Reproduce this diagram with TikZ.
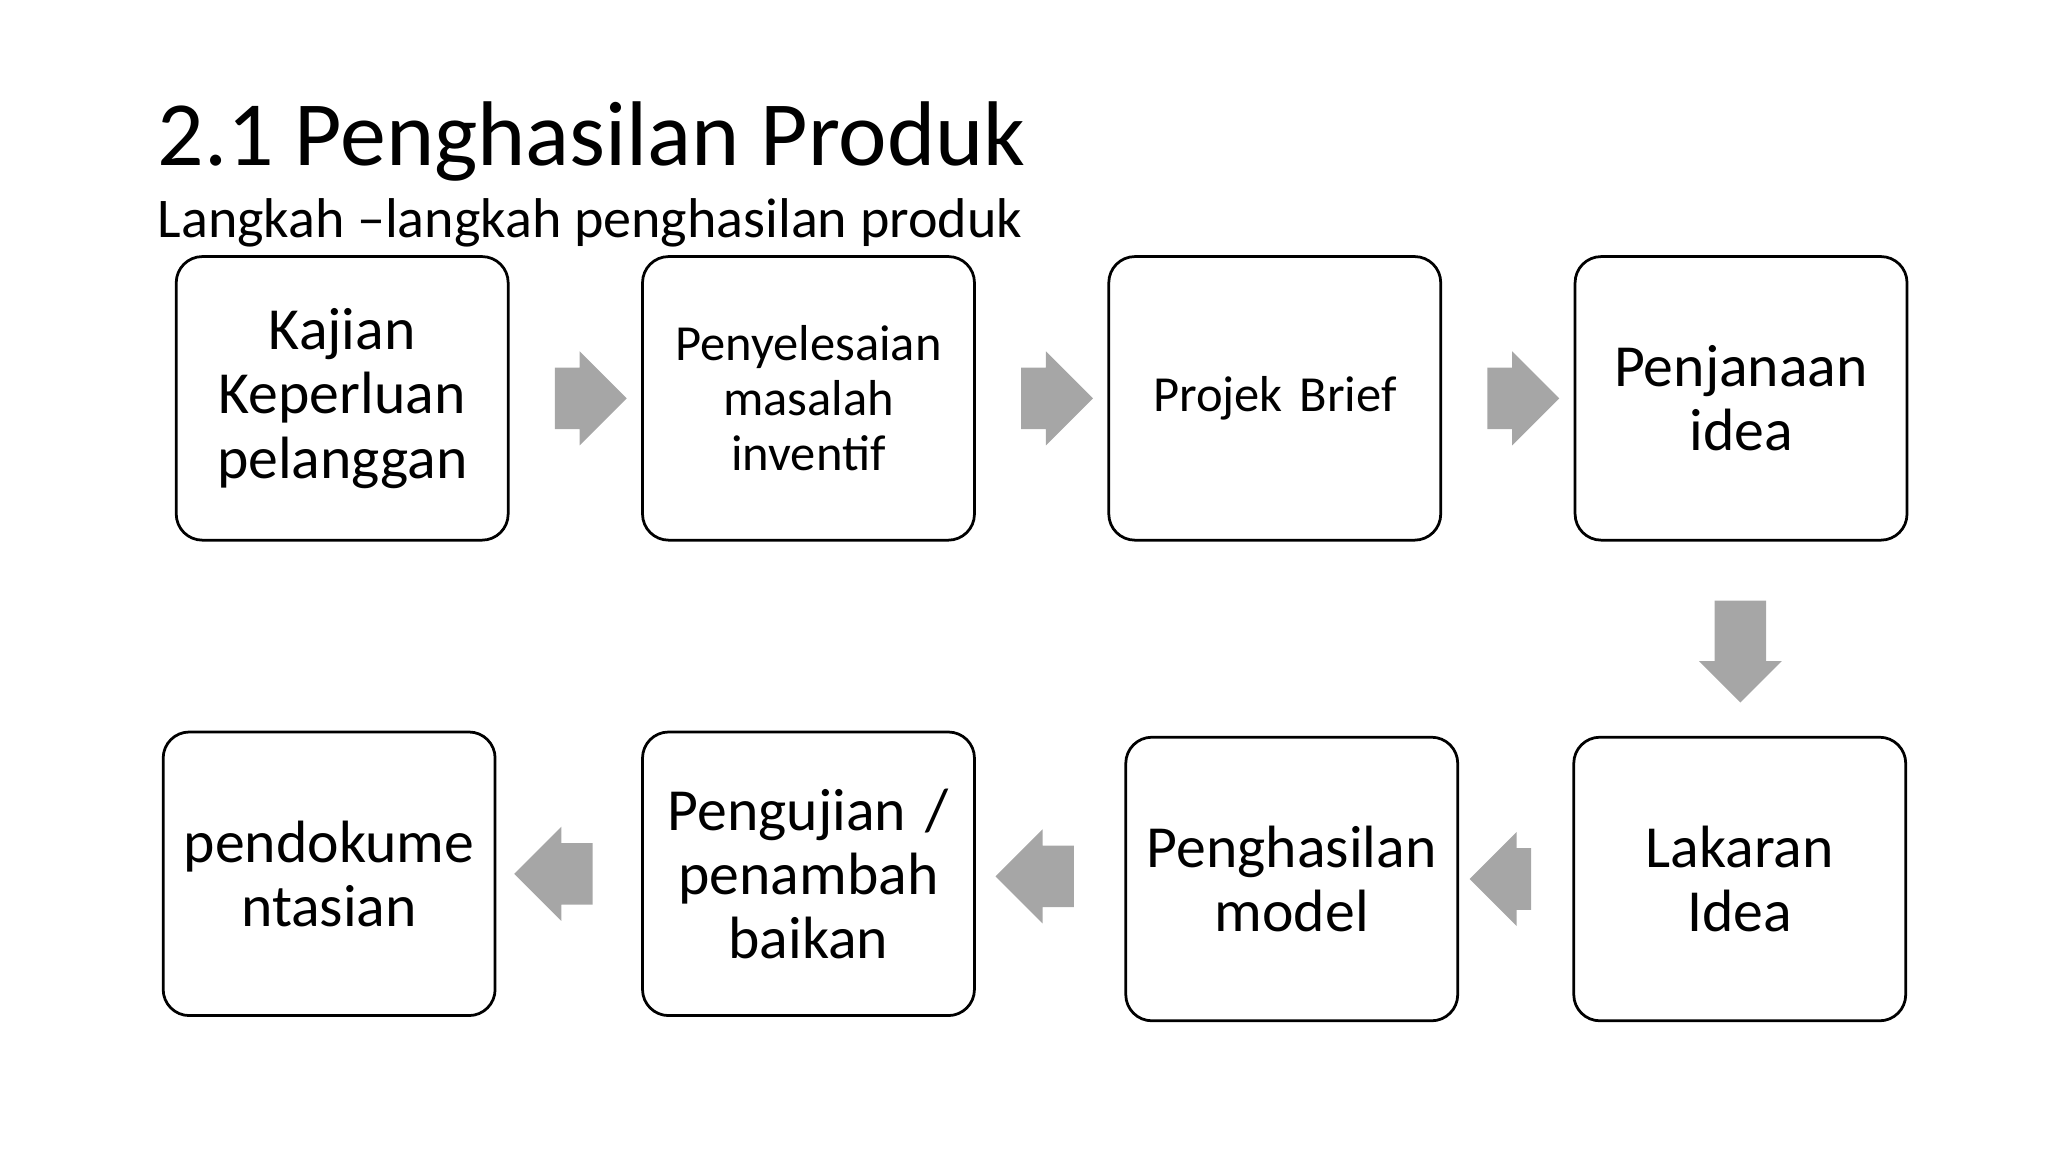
\documentclass[tikz,border=0pt]{standalone}
\usepackage{fontspec}
\setmainfont{Carlito}
\usetikzlibrary{calc,shapes.arrows}
\tikzset{x=0.01cm, y=-0.01cm,
    step box/.style={draw=black, rounded corners=0.2cm, line width=0.6pt,
        minimum width=2.54cm, minimum height=2.17cm, align=center,
        inner sep=0.05cm, text width=2.4cm, font=\fontsize{13}{14}\selectfont},
    small text/.style={font=\fontsize{11}{12}\selectfont},
    flow arrow/.style={single arrow, fill=black!35, draw=none,
        minimum height=0.55cm, minimum width=0.72cm,
        single arrow head extend=0.12cm, inner xsep=0pt, inner ysep=0.22cm}
    }
\def\StepBox#1#2#3#4{%
  \node[step box] (#1) at (#2,#3) {#4};
}
\begin{document}
\begin{tikzpicture}
\useasboundingbox (0,0) rectangle (1568,882);
\node[anchor=base west, inner sep=0pt, font=\fontsize{20}{24}\selectfont] (title) at (120,127) {2.1 Penghasilan Produk};
\node[anchor=base west, inner sep=0pt, font=\fontsize{12.2}{15}\selectfont] (subtitle) at (120,182) {Langkah –langkah penghasilan produk};
% top row
\StepBox{kajian}{262}{305}{Kajian\\Keperluan\\pelanggan}
\node[step box, small text] (masalah) at (619,305) {Penyelesaian\\masalah\\inventif};
\node[step box, small text] (brief) at (976,305) {Projek~Brief};
\StepBox{idea}{1333}{305}{Penjanaan\\idea}
% bottom row
\StepBox{lakaran}{1332}{673}{Lakaran\\Idea}
\StepBox{model}{989}{673}{Penghasilan\\model}
\StepBox{uji}{619}{669}{Pengujian /\\penambah\\baikan}
\StepBox{dokumen}{252}{669}{pendokume\\ntasian}
% arrows
\node[flow arrow] (a1) at ($(kajian.east)!0.5!(masalah.west)$) {};
\node[flow arrow] (a2) at ($(masalah.east)!0.5!(brief.west)$) {};
\node[flow arrow] (a3) at ($(brief.east)!0.5!(idea.west)$) {};
\node[flow arrow, rotate=-90, minimum height=0.78cm, minimum width=0.63cm, inner ysep=0.19cm, single arrow head extend=0.12cm] (a4) at ($(idea.south)!0.5!(lakaran.north)$) {};
\node[flow arrow, rotate=180, minimum height=0.47cm] (a5) at ($(lakaran.west)!0.5!(model.east)$) {};
\node[flow arrow, rotate=180, minimum height=0.6cm] (a6) at ($(model.west)!0.5!(uji.east)$) {};
\node[flow arrow, rotate=180, minimum height=0.6cm] (a7) at ($(uji.west)!0.5!(dokumen.east)$) {};
\end{tikzpicture}
\end{document}
